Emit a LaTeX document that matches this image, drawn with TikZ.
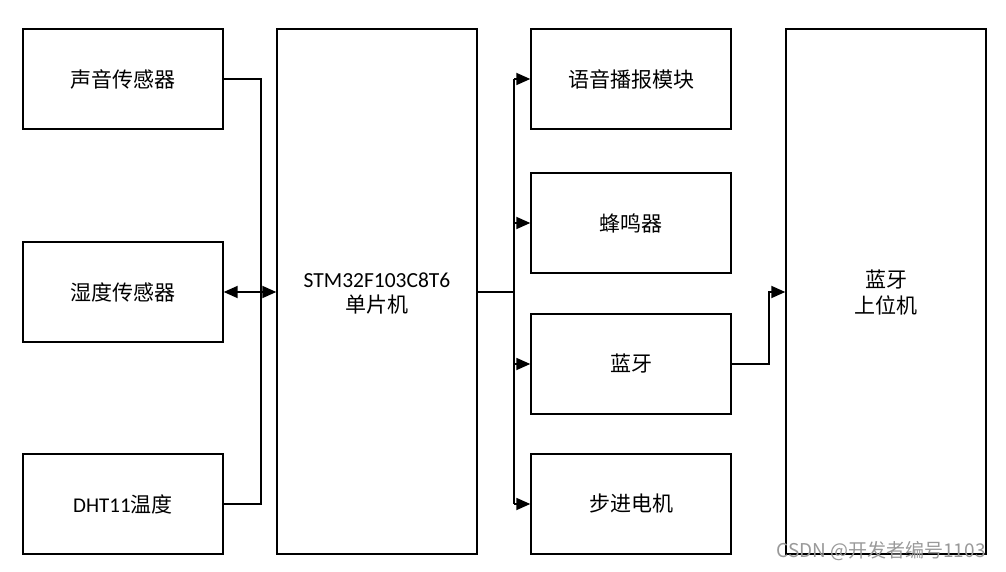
\documentclass[tikz,border=0pt]{standalone}
\usepackage{fontspec}
\setmainfont{Carlito}
\newfontfamily\cjk{Noto Sans CJK SC}
\usetikzlibrary{arrows.meta}
\begin{document}
\begin{tikzpicture}[x=1pt,y=-1pt,
  blk/.style={draw=black,line width=1.4pt,fill=white,inner sep=0pt},
  wire/.style={draw=black,line width=1.8pt},
  arr/.style={wire,-{Triangle[length=14pt,width=12pt]}},
  darr/.style={wire,{Triangle[length=14pt,width=12pt]}-{Triangle[length=14pt,width=12pt]}},
  lbl/.style={font=\fontsize{21}{25}\selectfont\cjk},
  wm/.style={font=\fontsize{19}{22}\selectfont\cjk,text=black!40}]
\useasboundingbox (0,0) rectangle (1006,572);
\fill[white] (0,0) rectangle (1006,572);
% left column
\node[blk,minimum width=200pt,minimum height=100pt] (s1) at (123,79) {};
\node[lbl] at (s1) {声音传感器};
\node[blk,minimum width=200pt,minimum height=100pt] (s2) at (123,292) {};
\node[lbl] at (s2) {湿度传感器};
\node[blk,minimum width=200pt,minimum height=100pt] (s3) at (123,504) {};
\node[lbl] at (s3) {{\fontspec{Carlito}DHT11}温度};
% MCU
\node[blk,minimum width=200pt,minimum height=525pt] (mcu) at (377,291.5) {};
\node[font=\fontsize{21.5}{25}\selectfont] at (377,280) {STM32F103C8T6};
\node[lbl] at (377,305) {单片机};
% right column
\node[blk,minimum width=200pt,minimum height=100pt] (r1) at (631,79) {};
\node[lbl] at (r1) {语音播报模块};
\node[blk,minimum width=200pt,minimum height=100pt] (r2) at (631,223) {};
\node[lbl] at (r2) {蜂鸣器};
\node[blk,minimum width=200pt,minimum height=100pt] (r3) at (631,364) {};
\node[lbl] at (r3) {蓝牙};
\node[blk,minimum width=200pt,minimum height=100pt] (r4) at (631,504) {};
\node[lbl] at (r4) {步进电机};
% host
\node[blk,minimum width=200pt,minimum height=525pt] (pc) at (886,291.5) {};
\node[lbl] at (886,280) {蓝牙};
\node[lbl] at (886,305) {上位机};
% left wiring
\coordinate (lb1) at (261,79);
\coordinate (lb3) at (261,504);
\draw[wire] (s1.east) -- (lb1) -- (lb3) -- (s3.east);
\draw[darr] (s2.east) -- (mcu.west |- s2.east);
% right wiring
\coordinate (rb) at (514,292);
\coordinate (rt) at (514,79);
\coordinate (rbot) at (514,504);
\draw[wire] (mcu.east |- rb) -- (rb);
\draw[wire] (rt) -- (rbot);
\draw[arr] (rt) -- (r1.west);
\draw[arr] (514,223) -- (r2.west);
\draw[arr] (514,364) -- (r3.west);
\draw[arr] (rbot) -- (r4.west);
% bluetooth to host
\coordinate (bt1) at (769,364);
\coordinate (bt2) at (769,292);
\draw[arr] (r3.east) -- (bt1) -- (bt2) -- (pc.west |- bt2);
% watermark
\node[wm,anchor=center] (wmk) at (881,551) {CSDN @开发者编号1103};
\end{tikzpicture}
\end{document}
